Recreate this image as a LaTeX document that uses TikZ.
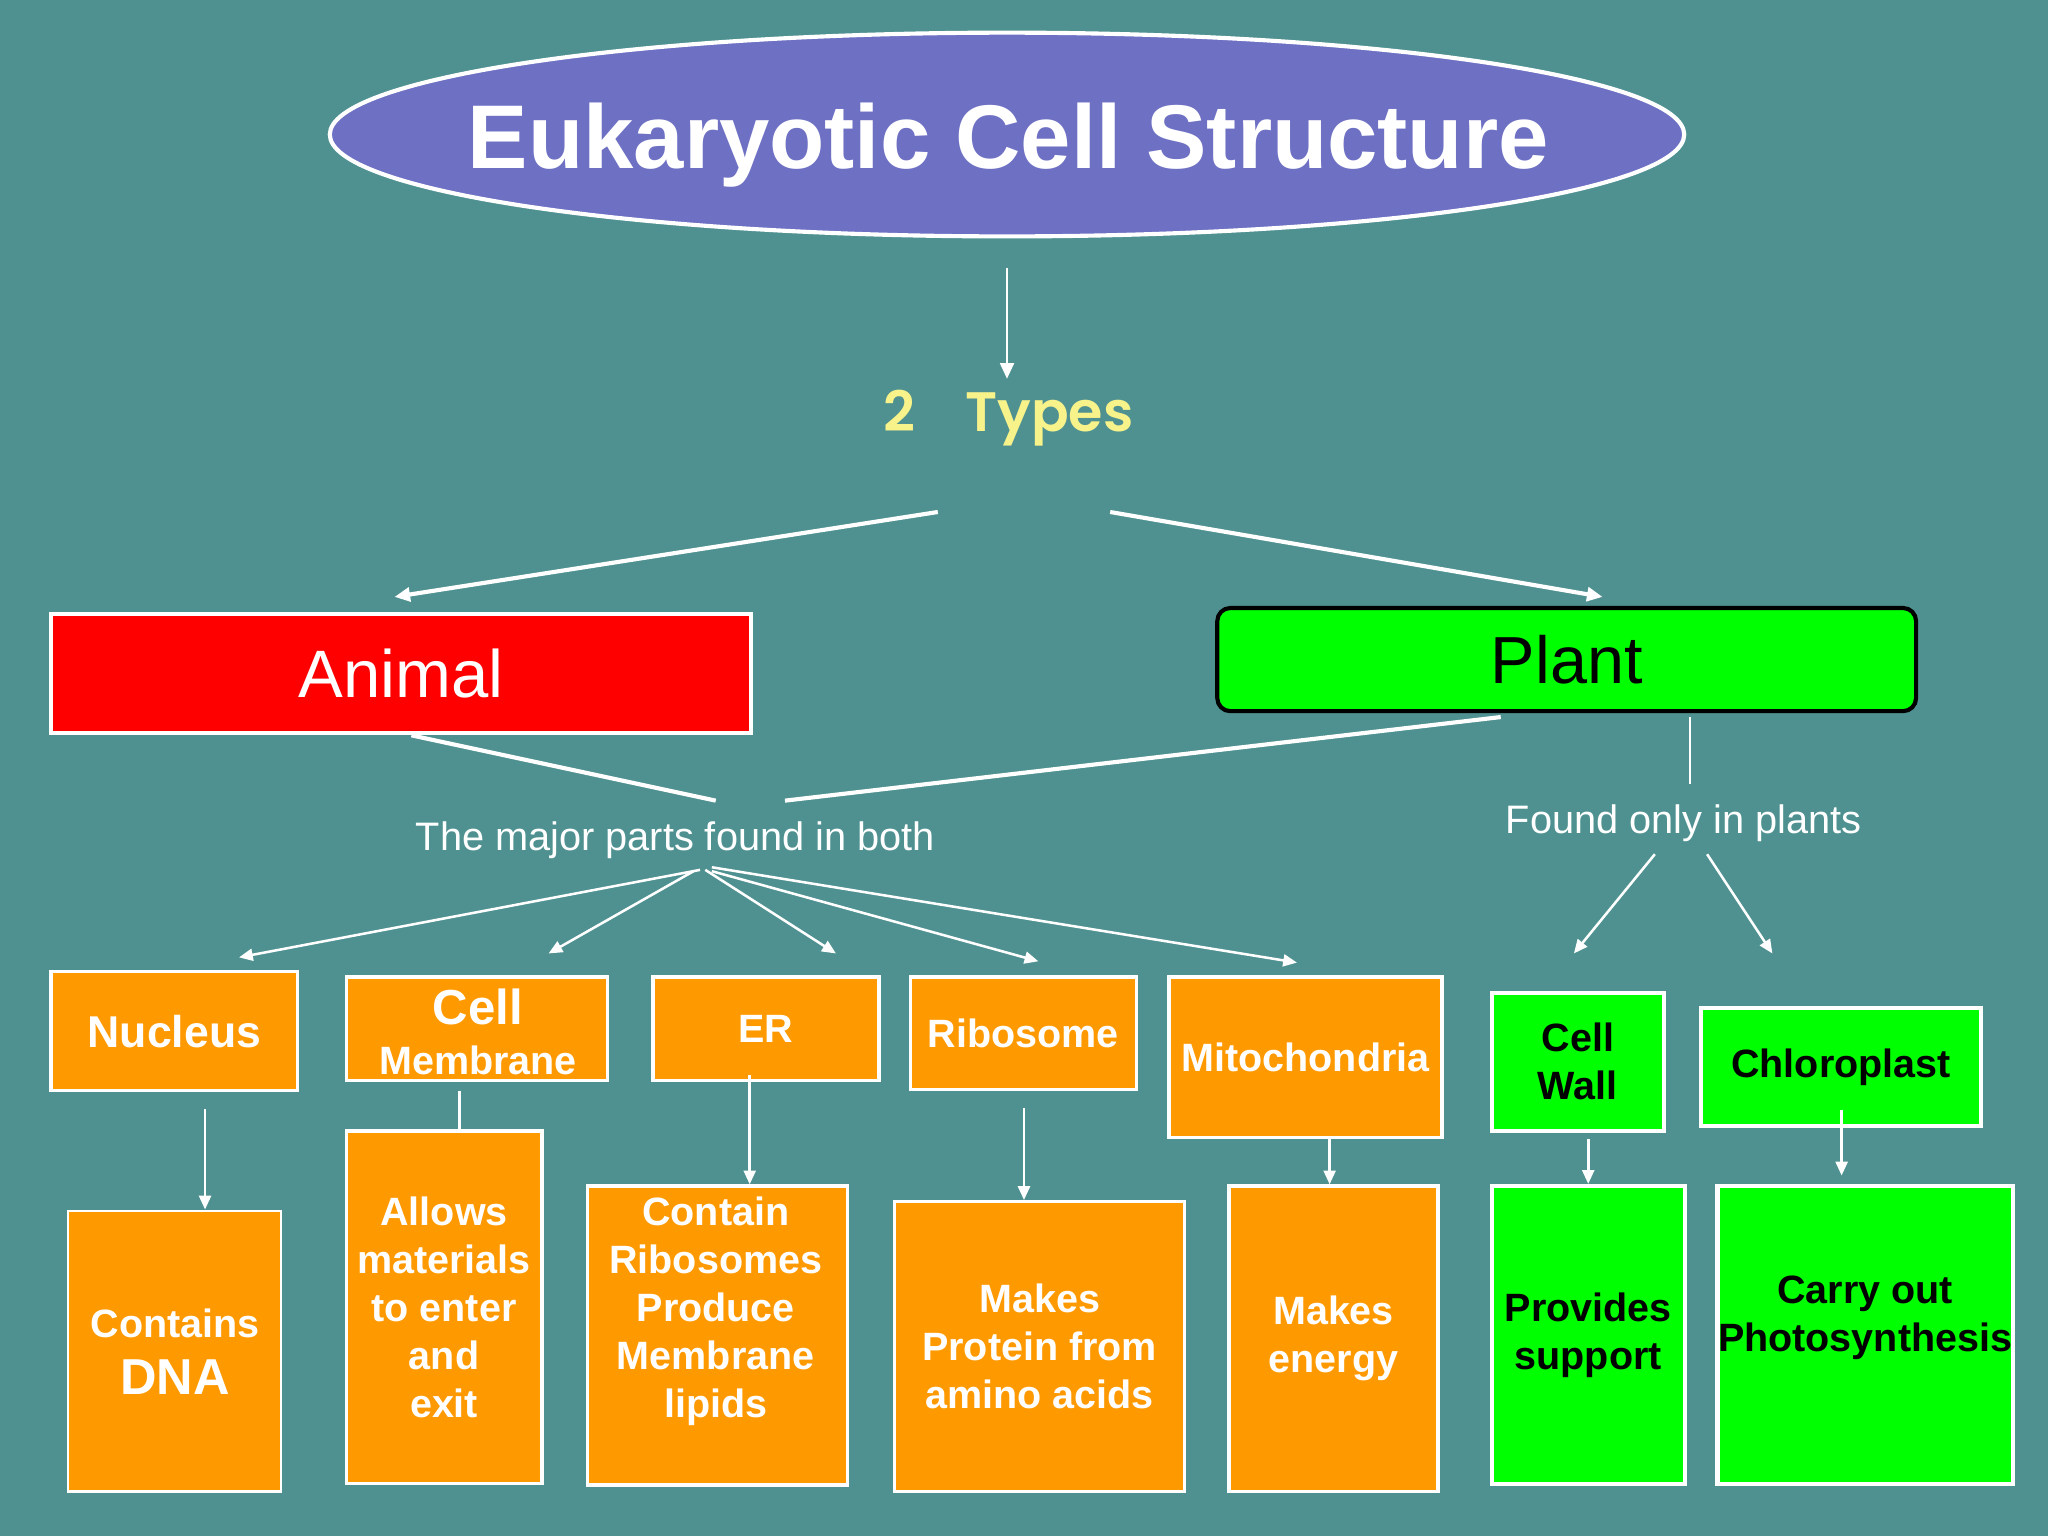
\documentclass[tikz,border=0pt]{standalone}
\usepackage{fontspec}
\setmainfont{Liberation Sans}
\newfontfamily\typesfont{Poppins}[UprightFont={* SemiBold}]
\usetikzlibrary{arrows.meta,shapes.geometric}
\definecolor{bg}{HTML}{4F9191}
\definecolor{ellfill}{HTML}{6E70C4}
\definecolor{orng}{HTML}{FF9900}
\definecolor{grn}{HTML}{00FF00}
\definecolor{redbox}{HTML}{FF0000}
\definecolor{yel}{HTML}{F8F28A}
\newcommand\btxt{\fontsize{8.6}{10.45}\selectfont\bfseries}
\newcommand\rtxt{\fontsize{8.65}{10}\selectfont}
\tikzset{
  sz/.style 2 args={minimum width=#1*0.01cm, minimum height=#2*0.01cm},
  obox/.style={draw=white, line width=0.7pt, fill=orng, inner sep=0pt, text=white, font=\btxt, align=center},
  gbox/.style={draw=white, line width=0.9pt, fill=grn, inner sep=0pt, text=black, font=\btxt, align=center},
  btext/.style={font=\btxt, align=center, inner sep=0pt},
  thinline/.style={draw=white, line width=0.55pt},
  thickline/.style={draw=white, line width=0.9pt},
  arr/.style={thinline, -{Triangle[length=3pt,width=2.6pt]}},
  thickarr/.style={thickline, -{Triangle[length=3.4pt,width=3pt]}},
}
\begin{document}
\begin{tikzpicture}[x=0.01cm,y=-0.01cm]
\fill[bg] (0,0) rectangle (1568,1176);
\useasboundingbox (0,0) rectangle (1568,1176);

% title
\node[ellipse, draw=white, line width=0.9pt, fill=ellfill, sz={1037}{156}, inner sep=0pt] (title) at (771,103) {};
\node[text=white, inner sep=0pt] (titletext) at (772,111) {\fontsize{19.7}{22}\selectfont\bfseries Eukaryotic Cell Structure};
\node[anchor=base, text=yel, inner sep=0pt] (types) at (772,330) {\typesfont\fontsize{12.1}{15}\selectfont 2\hspace{11pt}Types};

\coordinate (t1) at (771,205);
\coordinate (t2) at (771,290);
\draw[thinline, -{Triangle[length=3.4pt,width=3pt]}] (t1) -- (t2);

\coordinate (tl1) at (718,392); \coordinate (tl2) at (302,457);
\coordinate (tr1) at (850,392); \coordinate (tr2) at (1227,457);
\draw[thickarr] (tl1) -- (tl2);
\draw[thickarr] (tr1) -- (tr2);

% Animal & Plant
\node[draw=white, line width=0.9pt, fill=redbox, inner sep=0pt, text=white, sz={536}{91},
  font=\fontsize{14.6}{17}\selectfont] (animal) at (307,515.5) {Animal};
\node[draw=black, line width=0.9pt, fill=grn, inner sep=0pt, rounded corners=0.1cm, text=black, sz={535}{79},
  font=\fontsize{14.5}{17}\selectfont] (plant) at (1199.5,505) {Plant};

\node[anchor=base, text=white, inner sep=0pt, font=\rtxt] (both) at (517,651) {The major parts found in both};
\node[anchor=base, text=white, inner sep=0pt, font=\rtxt] (only) at (1289,638) {Found only in plants};

\coordinate (a1) at (315,563); \coordinate (a2) at (548,613);
\coordinate (p1) at (1149,549); \coordinate (p2) at (601,613);
\draw[thickline] (a1) -- (a2);
\draw[thickline] (p1) -- (p2);
\coordinate (pv1) at (1294,549); \coordinate (pv2) at (1294,600);
\draw[thinline] (pv1) -- (pv2);

% fan
\coordinate (f1) at (536,666); \coordinate (e1) at (183,733);
\coordinate (f2) at (531,667); \coordinate (e2) at (420,730);
\coordinate (f3) at (540,666); \coordinate (e3) at (640,730);
\coordinate (f4) at (545,667); \coordinate (e4) at (795,736);
\coordinate (f5) at (545,664); \coordinate (e5) at (993,737);
\draw[arr] (f1) -- (e1);
\draw[arr] (f2) -- (e2);
\draw[arr] (f3) -- (e3);
\draw[arr] (f4) -- (e4);
\draw[arr] (f5) -- (e5);

\coordinate (g1) at (1267,654); \coordinate (h1) at (1205,730);
\coordinate (g2) at (1307,654); \coordinate (h2) at (1357,730);
\draw[arr] (g1) -- (h1);
\draw[arr] (g2) -- (h2);

% top row
\node[obox, sz={189}{91}, font=\fontsize{9.7}{11}\selectfont\bfseries] (nuc) at (133.5,789.5) {Nucleus};
\node[obox, sz={200}{79}] (cm) at (365,787.5) {};
\node[btext, text=white] (cmt) at (366,790) {{\fontsize{10.7}{12}\selectfont Cell}\\[0.5pt]Membrane};
\node[obox, sz={173}{79}] (er) at (586.5,787.5) {ER};
\node[obox, sz={173}{86}] (rib) at (783.5,791) {Ribosome};
\node[obox, sz={209}{123}] (mit) at (999.5,809.5) {Mitochondria};
\node[gbox, sz={132}{106}] (cw) at (1208,813) {Cell\\Wall};
\node[gbox, sz={215}{90}] (chl) at (1409.5,817) {Chloroplast};

% bottom row
\node[obox, line width=0.55pt, sz={163}{215}] (dna) at (133.5,1034.5) {};
\node[btext, text=white] (dnat) at (134,1035) {Contains\\[2pt]{\fontsize{11}{13}\selectfont DNA}};
\node[obox, sz={150}{270}] (allow) at (340,1001) {Allows\\materials\\to enter\\and\\exit};
\node[obox, sz={199}{229}] (erc) at (549.5,1022.5) {};
\node[btext, text=white] (erct) at (548,1004) {Contain\\Ribosomes\\Produce\\Membrane\\lipids};
\node[obox, sz={222}{222}] (prot) at (796,1031) {Makes\\Protein from\\amino acids};
\node[obox, sz={160}{234}] (energy) at (1021,1025) {Makes\\energy};
\node[gbox, sz={148}{228}] (sup) at (1216,1022) {Provides\\support};
\node[gbox, sz={226}{228}] (photo) at (1428,1022) {};
\node[btext, text=black] (photot) at (1428,1009) {Carry out\\Photosynthesis};

% vertical connectors
\coordinate (n1) at (157,849);
\draw[arr] (n1) -- (dna.north -| n1);
\coordinate (m1) at (352,835);
\draw[thinline] (m1) -- (allow.north -| m1);
\coordinate (x1) at (574,823);
\draw[arr] (x1) -- (erc.north -| x1);
\coordinate (r1) at (784,848);
\draw[arr] (r1) -- (prot.north -| r1);
\coordinate (k1) at (1018,871);
\draw[arr] (k1) -- (energy.north -| k1);
\coordinate (w1) at (1216,872);
\draw[arr] (w1) -- (sup.north -| w1);
\coordinate (c1) at (1410,850); \coordinate (c2) at (1410,900);
\draw[arr] (c1) -- (c2);
\end{tikzpicture}
\end{document}
